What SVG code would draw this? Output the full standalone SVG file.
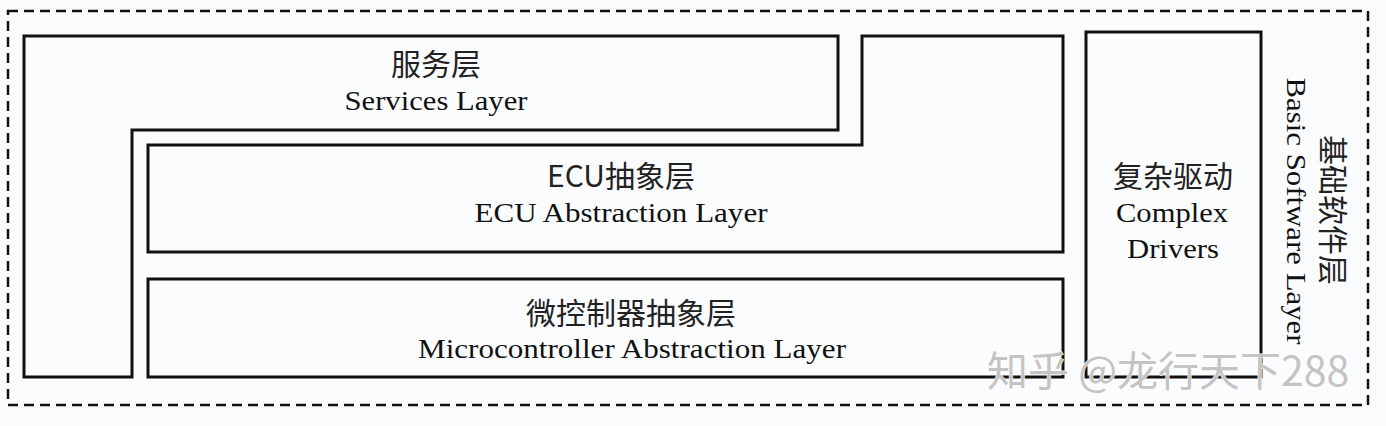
<svg xmlns="http://www.w3.org/2000/svg" width="1386" height="426" viewBox="0 0 1386 426">
<style>
.box{fill:none;stroke:#111;stroke-width:3;stroke-linejoin:miter}
.dash{fill:none;stroke:#111;stroke-width:2.5;stroke-dasharray:10 6}
.en{font-family:"Liberation Serif","Times New Roman",serif;font-size:28px;fill:#111;text-anchor:middle}
.zh{font-family:"Noto Sans CJK SC","Noto Sans CJK JP",sans-serif;font-size:30px;fill:#222;text-anchor:middle}
.wm{font-family:"Noto Sans CJK SC","Liberation Sans",sans-serif;font-size:41px;fill:#c4c4c4;stroke:#fff;stroke-width:1;paint-order:stroke;text-anchor:start}
</style>
<rect width="1386" height="426" fill="#fbfcfe"/>
<g id="basic-software-layer">
<rect class="dash" x="8" y="11" width="1360" height="394"/>
<text class="en" transform="translate(1296,211) rotate(90)" dominant-baseline="central" textLength="267" lengthAdjust="spacingAndGlyphs">Basic Software Layer</text>
<text class="zh" transform="translate(1335,210) rotate(90)" dominant-baseline="central">基础软件层</text>
</g>
<g id="services-layer">
<polygon class="box" points="24,36 838,36 838,130 132,130 132,377 24,377"/>
<text class="zh" x="436" y="75">服务层</text>
<text class="en" x="436" y="110" textLength="183" lengthAdjust="spacingAndGlyphs">Services Layer</text>
</g>
<g id="ecu-abstraction-layer">
<polygon class="box" points="148,145 862,145 862,36 1063,36 1063,252 148,252"/>
<text class="zh" x="621" y="187">ECU抽象层</text>
<text class="en" x="621" y="222" textLength="293" lengthAdjust="spacingAndGlyphs">ECU Abstraction Layer</text>
</g>
<g id="microcontroller-abstraction-layer">
<rect class="box" x="148" y="279" width="915" height="98"/>
<text class="zh" x="631" y="324">微控制器抽象层</text>
<text class="en" x="632" y="358" textLength="428" lengthAdjust="spacingAndGlyphs">Microcontroller Abstraction Layer</text>
</g>
<g id="complex-drivers">
<rect class="box" x="1086" y="32" width="175" height="345"/>
<text class="zh" x="1173" y="187">复杂驱动</text>
<text class="en" x="1172" y="222" textLength="112" lengthAdjust="spacingAndGlyphs">Complex</text>
<text class="en" x="1173" y="258" textLength="92" lengthAdjust="spacingAndGlyphs">Drivers</text>
</g>
<g id="connectors"></g>
<text class="wm" x="987" y="386">知乎 @龙行天下288</text>
</svg>
